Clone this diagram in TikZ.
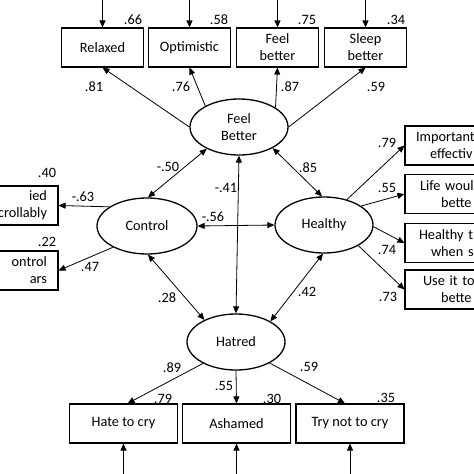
\documentclass[tikz,border=0pt]{standalone}
\usepackage{fontspec}
\setmainfont{Carlito}
\usepackage{tikz}
\usetikzlibrary{arrows.meta}
\usetikzlibrary{shapes.geometric}

\begin{document}
\begin{tikzpicture}[
    x=1pt,y=-1pt,
    font=\fontsize{14.3}{17}\selectfont,
    latent/.style={ellipse,draw,line width=1.3pt,minimum width=98pt,minimum height=56pt,inner sep=0pt,align=center},
    obs/.style={rectangle,draw,line width=1.1pt,minimum width=82pt,minimum height=39pt,inner sep=0pt,align=center},
    wide obs/.style={obs,minimum width=108pt},
    cut obs/.style={obs,minimum width=108pt,text width=86pt},
    lab/.style={inner sep=0pt},
    arr/.style={-{Triangle[length=7pt,width=6pt]},line width=0.8pt},
    dbl/.style={{Triangle[length=7pt,width=6pt]}-{Triangle[length=7pt,width=6pt]},line width=0.8pt},
    ]
  \useasboundingbox (0,0) rectangle (474,474);
  \clip (0,0) rectangle (474,474);

  % latent variables
  \node[latent] (fb) at (239,127) {Feel\\Better};
  \node[latent,minimum width=100pt] (ctrl) at (147,226) {Control};
  \node[latent] (hlth) at (324,225) {Healthy};
  \node[latent] (hat) at (236,342) {Hatred};

  % indicators
  \node[obs] (relaxed) at (102.5,47.5) {Relaxed};
  \node[obs] (optim) at (189.5,47.5) {Optimistic};
  \node[obs] (feelb) at (277.5,47.5) {Feel\\better};
  \node[obs] (sleep) at (365.5,47.5) {Sleep\\better};

  \node[cut obs,align=right] (cried) at (4,205.5) {ied\hspace*{28pt}\\crollably};
  \node[cut obs,align=right] (lose) at (4,270.5) {ontrol\hspace*{10pt}\\ars\hspace*{30pt}};

  \node[cut obs,align=left] (imp) at (459,145.5) {Important\\\hspace*{14pt}effectiv};
  \node[cut obs,align=left] (life) at (459,194) {\hspace*{4pt}Life woul\\\hspace*{25pt}bette};
  \node[cut obs,align=left] (healt) at (459,243) {\hspace*{3pt}Healthy t\\\hspace*{15pt}when s};
  \node[cut obs,align=left] (use) at (459,289.5) {\hspace*{7pt}Use it to\\\hspace*{25pt}bette};

  \node[wide obs] (hate) at (123.5,423.5) {Hate to cry};
  \node[wide obs] (asham) at (236.5,423.5) {Ashamed};
  \node[wide obs] (trynot) at (350,423.5) {Try not to cry};

  % error terms
  \coordinate (e1) at (102.5,0);
  \coordinate (e2) at (189.5,0);
  \coordinate (e3) at (277.5,0);
  \coordinate (e4) at (365.5,0);
  \coordinate (e5) at (123.5,474);
  \coordinate (e6) at (236.5,474);
  \coordinate (e7) at (350,474);

  \draw[arr] (e1) -- (relaxed);
  \draw[arr] (e2) -- (optim);
  \draw[arr] (e3) -- (feelb);
  \draw[arr] (e4) -- (sleep);
  \draw[arr] (e5) -- (hate);
  \draw[arr] (e6) -- (asham);
  \draw[arr] (e7) -- (trynot);

  % loadings
  \draw[arr] (fb.west) -- (relaxed.south);
  \draw[arr] (fb.148) -- (optim.south);
  \draw[arr] (fb.28) -- (feelb.south);
  \draw[arr] (fb.east) -- (sleep.south);

  \draw[arr] (ctrl.153) -- (cried.east);
  \draw[arr] (ctrl.212) -- (lose.east);

  \draw[arr] (hlth.48) -- (imp.west);
  \draw[arr] (hlth.27) -- (life.west);
  \draw[arr] (hlth.358) -- (healt.west);
  \draw[arr] (hlth.329) -- (use.west);

  \draw[arr] (hat.213) -- ([xshift=4pt]hate.north);
  \draw[arr] (hat.south) -- (asham.north);
  \draw[arr] (hat.328) -- ([xshift=-5pt]trynot.north);

  % covariances
  \draw[dbl] (fb.214) -- (ctrl.88);
  \draw[dbl] (fb.328) -- (hlth.94);
  \draw[dbl] (fb.south) -- (hat.north);
  \draw[dbl] (ctrl.east) -- (hlth.west);
  \draw[dbl] (ctrl.272) -- (hat.145);
  \draw[dbl] (hlth.268) -- (hat.31);

  % estimates
  \node[lab] (r1) at (133,20) {.66};
  \node[lab] (r2) at (219,20) {.58};
  \node[lab] (r3) at (307,20) {.75};
  \node[lab] (r4) at (396,20) {.34};
  \node[lab] (l1) at (94,87) {.81};
  \node[lab] (l2) at (181,87) {.76};
  \node[lab] (l3) at (290,87) {.87};
  \node[lab] (l4) at (376,87) {.59};

  \node[lab] (r5) at (47,173) {.40};
  \node[lab] (r6) at (47,242) {.22};
  \node[lab] (l5) at (83,197) {-.63};
  \node[lab] (l6) at (90,267) {.47};

  \node[lab] (l7) at (387,143) {.79};
  \node[lab] (l8) at (387,188) {.55};
  \node[lab] (l9) at (387,250) {.74};
  \node[lab] (l10) at (388,297) {.73};

  \node[lab] (l11) at (172,368) {.89};
  \node[lab] (l12) at (224,386) {.55};
  \node[lab] (l13) at (309,367) {.59};
  \node[lab] (r7) at (163,399) {.79};
  \node[lab] (r8) at (272,399) {.30};
  \node[lab] (r9) at (386,398) {.35};

  \node[lab] (c1) at (168,167) {-.50};
  \node[lab] (c2) at (308,168) {.85};
  \node[lab] (c3) at (226,188) {-.41};
  \node[lab] (c4) at (213,217) {-.56};
  \node[lab] (c5) at (167,298) {.28};
  \node[lab] (c6) at (307,292) {.42};
\end{tikzpicture}
\end{document}
